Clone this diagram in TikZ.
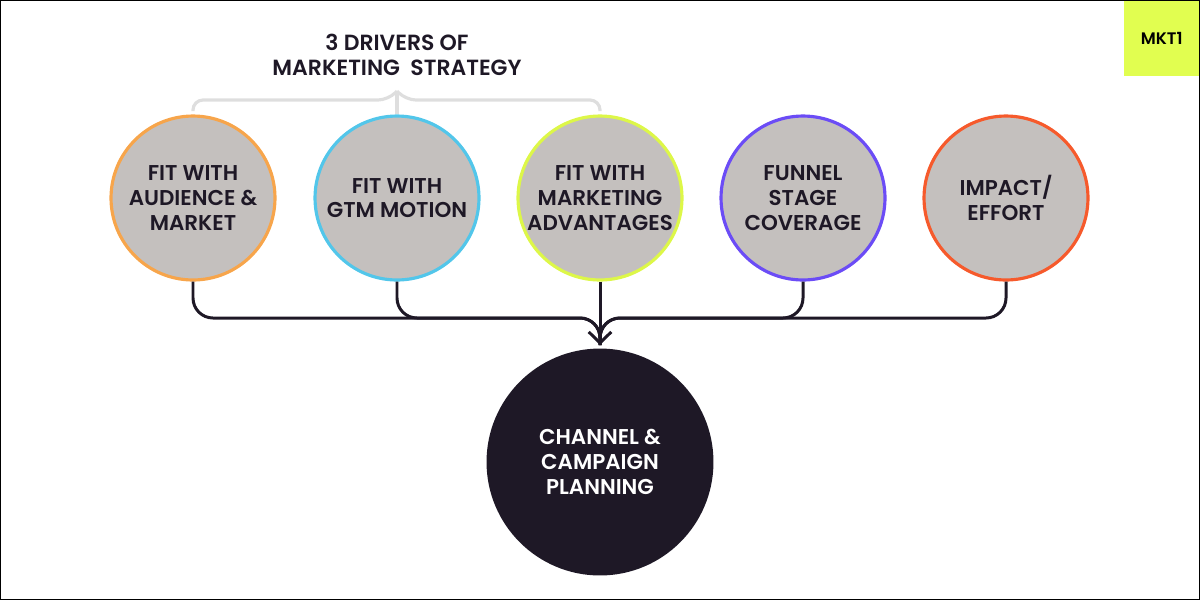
\documentclass[tikz,border=0pt]{standalone}
\usepackage{fontspec}
\setmainfont{Poppins}[BoldFont={* SemiBold}]
\usetikzlibrary{arrows.meta}
\definecolor{cgrey}{HTML}{C4C0BE}
\definecolor{cdark}{HTML}{1E1826}
\definecolor{corange}{HTML}{F7A54B}
\definecolor{cblue}{HTML}{52C6EA}
\definecolor{clime}{HTML}{DDF748}
\definecolor{cpurple}{HTML}{6B4CF6}
\definecolor{cred}{HTML}{F65A2C}
\definecolor{cmkt}{HTML}{E1FE50}
\definecolor{cbrace}{HTML}{DEDEDE}
\tikzset{
  drv/.style={circle,minimum size=3.28cm,fill=cgrey,line width=1.8pt,align=center,font=\bfseries\fontsize{12.2}{14}\selectfont,text=cdark,inner sep=0pt},
  conn/.style={draw=cdark,line width=1.7pt,rounded corners=0.4cm},
}
\begin{document}
\begin{tikzpicture}[x=0.02cm,y=-0.02cm]
\useasboundingbox (0,0) rectangle (1200,600);
\draw[line width=0.6pt] (0.5,0.5) rectangle (1199.5,599.5);
\node[fill=cmkt,minimum width=1.5cm,minimum height=1.5cm,anchor=north east,font=\bfseries\fontsize{9.5}{11}\selectfont] (mkt) at (1199.5,0.5) {MKT1};
\node[font=\bfseries\fontsize{12.5}{14}\selectfont,align=center,text=cdark] (title) at (397,55) {3 DRIVERS OF\\MARKETING\ \ STRATEGY};
\node[drv,draw=corange] (c1) at (193,198) {FIT WITH\\AUDIENCE \&\\MARKET};
\node[drv,draw=cblue] (c2) at (397,198) {FIT WITH\\GTM MOTION};
\node[drv,draw=clime] (c3) at (600,198) {FIT WITH\\MARKETING\\ADVANTAGES};
\node[drv,draw=cpurple] (c4) at (803,198) {FUNNEL\\STAGE\\COVERAGE};
\node[drv,draw=cred] (c5) at (1006,198) {IMPACT/\\EFFORT};
\node[circle,fill=cdark,minimum size=4.54cm,text=white,align=center,font=\bfseries\fontsize{12.2}{14}\selectfont] (p) at (600,462) {CHANNEL \&\\CAMPAIGN\\PLANNING};
% brace
\coordinate (bl) at (193,100);
\coordinate (br) at (600,100);
\coordinate (bt) at (397,91);
\draw[cbrace,line width=1.8pt,rounded corners=0.2cm] (193,111) -- (bl) -- (388,100) -- (bt);
\draw[cbrace,line width=1.8pt,rounded corners=0.2cm] (600,111) -- (br) -- (406,100) -- (bt);
\draw[cbrace,line width=1.8pt] (bt) -- (c2.north);
% connectors
\coordinate (m) at (600,318);
\coordinate (tip) at (600,345);
\foreach \c in {c1,c2,c4,c5}{\draw[conn] (\c.south) |- (m) -- (tip);}
\draw[conn,-{Straight Barb[length=0.22cm,width=0.45cm]}] (c3.south) -- (tip);
\end{tikzpicture}
\end{document}
